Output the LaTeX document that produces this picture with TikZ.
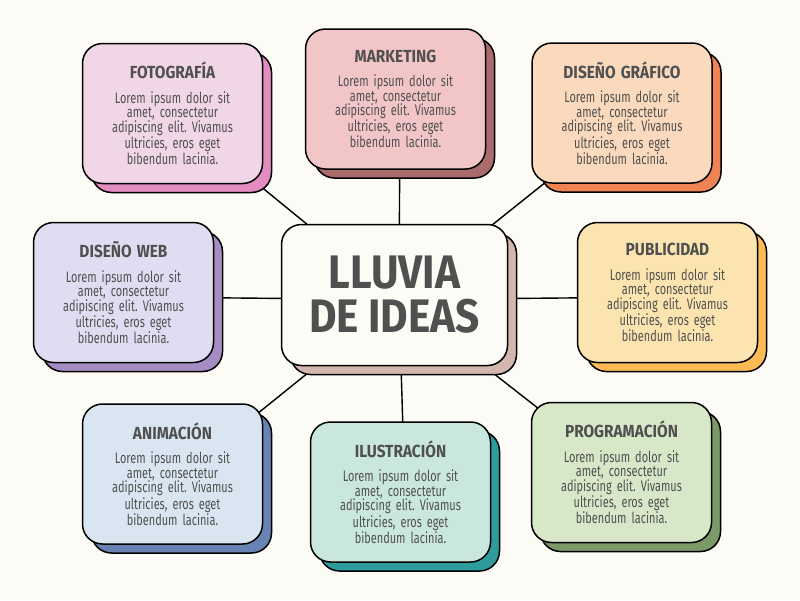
\documentclass[tikz,border=0pt]{standalone}
\usepackage{fontspec}
\setmainfont{Fira Sans}
\newfontfamily\bodyfont[FakeStretch=0.72]{Fira Sans}
\newfontfamily\headfont[FakeStretch=0.88]{Fira Sans}
\newfontfamily\bigfont[FakeStretch=0.9]{Fira Sans}
\usetikzlibrary{shadows,backgrounds}
\frenchspacing
\definecolor{bg}{HTML}{FCFBF5}
\definecolor{ink}{HTML}{505050}
\definecolor{fotoF}{HTML}{F0D6E6}\definecolor{fotoS}{HTML}{E38CC1}
\definecolor{mktF}{HTML}{F2C5C7}\definecolor{mktS}{HTML}{A96B6B}
\definecolor{grafF}{HTML}{FAD9BD}\definecolor{grafS}{HTML}{EF8354}
\definecolor{webF}{HTML}{E0DCF1}\definecolor{webS}{HTML}{A58DC3}
\definecolor{cenF}{HTML}{FCFBF6}\definecolor{cenS}{HTML}{D3B6AE}
\definecolor{pubF}{HTML}{FBE4AF}\definecolor{pubS}{HTML}{FDBA55}
\definecolor{animF}{HTML}{D9E6F1}\definecolor{animS}{HTML}{6784B5}
\definecolor{ilusF}{HTML}{C9E7DC}\definecolor{ilusS}{HTML}{2E9B9D}
\definecolor{progF}{HTML}{D7E8C9}\definecolor{progS}{HTML}{7B9A67}
\newcommand{\cardtext}[1]{{\headfont\bfseries\fontsize{17.5}{17.5}\selectfont #1}\\[10pt]%
Lorem ipsum dolor sit\\ amet, consectetur\\ adipiscing elit. Vivamus\\ ultricies, eros eget\\ bibendum lacinia.}
\tikzset{
  card/.style 2 args={draw=black, line width=1.5pt, rounded corners=20pt,
    minimum width=180pt, minimum height=140pt, inner sep=0pt,
    fill=#1, text=ink, align=center, text width=175pt,
    font={\bodyfont\fontsize{15.2}{14.5}\selectfont},
    general shadow={shadow xshift=9pt, shadow yshift=-9pt, fill=#2, draw=black, line width=1.5pt}},
  link/.style={draw=black, line width=1.4pt}
}
\begin{document}
\begin{tikzpicture}[x=1pt,y=-1pt]
\useasboundingbox (0,0) rectangle (800,600);
\node[card={cenF}{cenS}, minimum width=226pt, minimum height=141pt, text width=220pt,
  font={\bigfont\bfseries\fontsize{47}{44}\selectfont}] (c) at (394.5,295)
  {LLUVIA\\DE\hspace{0.2em}IDEAS};
\node[card={fotoF}{fotoS}] (foto) at (172.5,113.5) {\cardtext{FOTOGRAFÍA}};
\node[card={mktF}{mktS}] (mkt) at (395.5,99) {\cardtext{MARKETING}};
\node[card={grafF}{grafS}] (graf) at (622,113) {\cardtext{DISEÑO GRÁFICO}};
\node[card={webF}{webS}] (web) at (123.5,292.5) {\cardtext{DISEÑO WEB}};
\node[card={pubF}{pubS}] (pub) at (667.5,292.5) {\cardtext{PUBLICIDAD}};
\node[card={animF}{animS}] (anim) at (172.5,474) {\cardtext{ANIMACIÓN}};
\node[card={ilusF}{ilusS}] (ilus) at (400.5,492) {\cardtext{ILUSTRACIÓN}};
\node[card={progF}{progS}] (prog) at (621.5,472.5) {\cardtext{PROGRAMACIÓN}};
\begin{pgfonlayer}{background}
\fill[bg] (0,0) rectangle (800,600);
\foreach \n in {foto,mkt,graf,web,pub,anim,ilus,prog}
  \draw[link] ([shift={(4.5,4.5)}]c.center) -- ([shift={(4.5,4.5)}]\n.center);
\end{pgfonlayer}
\end{tikzpicture}
\end{document}
